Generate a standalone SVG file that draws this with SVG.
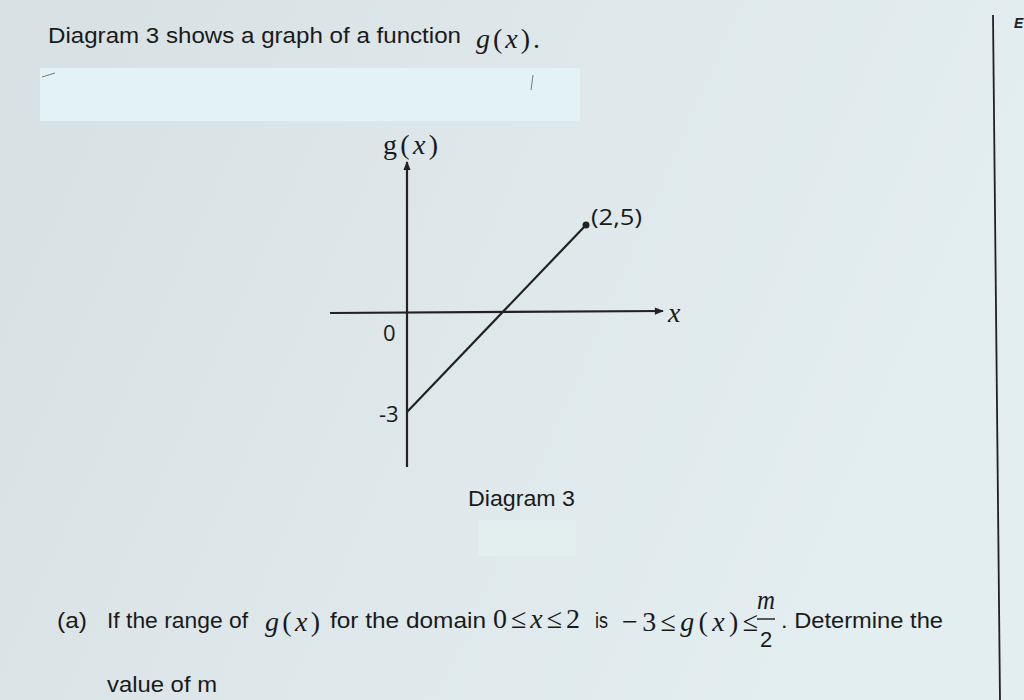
<svg xmlns="http://www.w3.org/2000/svg" width="1024" height="700" viewBox="0 0 1024 700">
<defs>
<linearGradient id="bg" x1="0" y1="0" x2="1" y2="0.3">
<stop offset="0" stop-color="#d7e0e2"/>
<stop offset="0.6" stop-color="#dfe9eb"/>
<stop offset="1" stop-color="#e3eef0"/>
</linearGradient>
<marker id="arr" viewBox="0 0 10 10" refX="9" refY="5" markerWidth="10" markerHeight="9" orient="auto" markerUnits="userSpaceOnUse">
<path d="M0,1 L10,5 L0,9 Z" fill="#222"/>
</marker>
<style>
.t{font-family:"Liberation Sans",Arial,sans-serif;font-size:22px;fill:#1a1a1a}
.m{font-family:"Liberation Serif","Times New Roman",serif;font-size:28px;fill:#1a1a1a}
.i{font-style:italic}
.g{font-family:"Open Sans","Noto Sans",sans-serif;font-size:22px;fill:#1a1a1a}
.ax{stroke:#222;stroke-width:2.2;fill:none}
</style>
</defs>
<rect width="1024" height="700" fill="url(#bg)"/>
<rect x="40" y="68" width="540" height="53" fill="#e3f3f5"/>
<rect x="478" y="520" width="98" height="36" fill="#e4eff1" opacity="0.7"/>
<path d="M42,77 L55,73" stroke="#777" stroke-width="1"/>
<path d="M533,75 L531,90" stroke="#777" stroke-width="1"/>
<line x1="993" y1="15" x2="1000" y2="700" stroke="#222" stroke-width="1.8"/>
<text x="1014" y="28" style="font-family:'Liberation Sans',sans-serif;font-size:14px;font-style:italic;font-weight:bold;fill:#222">E</text>

<g id="title">
<text class="t" x="48" y="43" textLength="413" lengthAdjust="spacingAndGlyphs">Diagram 3 shows a graph of a function</text>
<text class="m" x="476" y="48" textLength="64" lengthAdjust="spacing"><tspan class="i">g</tspan>(<tspan class="i">x</tspan>).</text>
</g>

<g id="connectors">
<line class="ax" x1="407" y1="467" x2="407" y2="162" marker-end="url(#arr)"/>
<line class="ax" x1="330" y1="313" x2="663" y2="311" marker-end="url(#arr)"/>
<line class="ax" x1="407" y1="412" x2="586" y2="225"/>
</g>

<g id="point">
<circle cx="586" cy="225" r="3.5" fill="#222"/>
</g>

<g id="labels">
<text x="383" y="154" textLength="55" lengthAdjust="spacing" style="font-family:'Liberation Serif',serif;font-size:28px;fill:#1a1a1a">g(<tspan font-style="italic">x</tspan>)</text>
<text class="g" x="591" y="225" textLength="51" lengthAdjust="spacingAndGlyphs">(2,5)</text>
<text class="m i" x="668" y="322">x</text>
<text class="g" x="383" y="341">0</text>
<text class="g" x="379" y="422">-3</text>
</g>

<g id="caption">
<text class="t" x="468" y="506" textLength="107" lengthAdjust="spacingAndGlyphs">Diagram 3</text>
</g>

<g id="question">
<text class="t" x="57" y="628" textLength="30" lengthAdjust="spacingAndGlyphs">(a)</text>
<text class="t" x="107" y="628" textLength="141" lengthAdjust="spacingAndGlyphs">If the range of</text>
<text class="m" x="265" y="631" textLength="55" lengthAdjust="spacing"><tspan class="i">g</tspan>(<tspan class="i">x</tspan>)</text>
<text class="t" x="330" y="628" textLength="156" lengthAdjust="spacingAndGlyphs">for the domain</text>
<text class="m" x="493" y="628" textLength="87" lengthAdjust="spacing">0≤<tspan class="i">x</tspan>≤2</text>
<text class="t" x="595" y="628" textLength="13" lengthAdjust="spacingAndGlyphs">is</text>
<text class="m" x="622" y="631" textLength="136" lengthAdjust="spacing">−3≤<tspan class="i">g</tspan>(<tspan class="i">x</tspan>)≤</text>
<text class="m i" x="757" y="609" font-size="22" textLength="18" lengthAdjust="spacingAndGlyphs">m</text>
<line x1="757" y1="619" x2="775" y2="619" stroke="#1a1a1a" stroke-width="1.4"/>
<text class="t" x="760" y="647" font-size="22">2</text>
<text class="t" x="781" y="628" textLength="162" lengthAdjust="spacingAndGlyphs">. Determine the</text>
<text class="t" x="107" y="692" textLength="110" lengthAdjust="spacingAndGlyphs">value of m</text>
</g>
</svg>
